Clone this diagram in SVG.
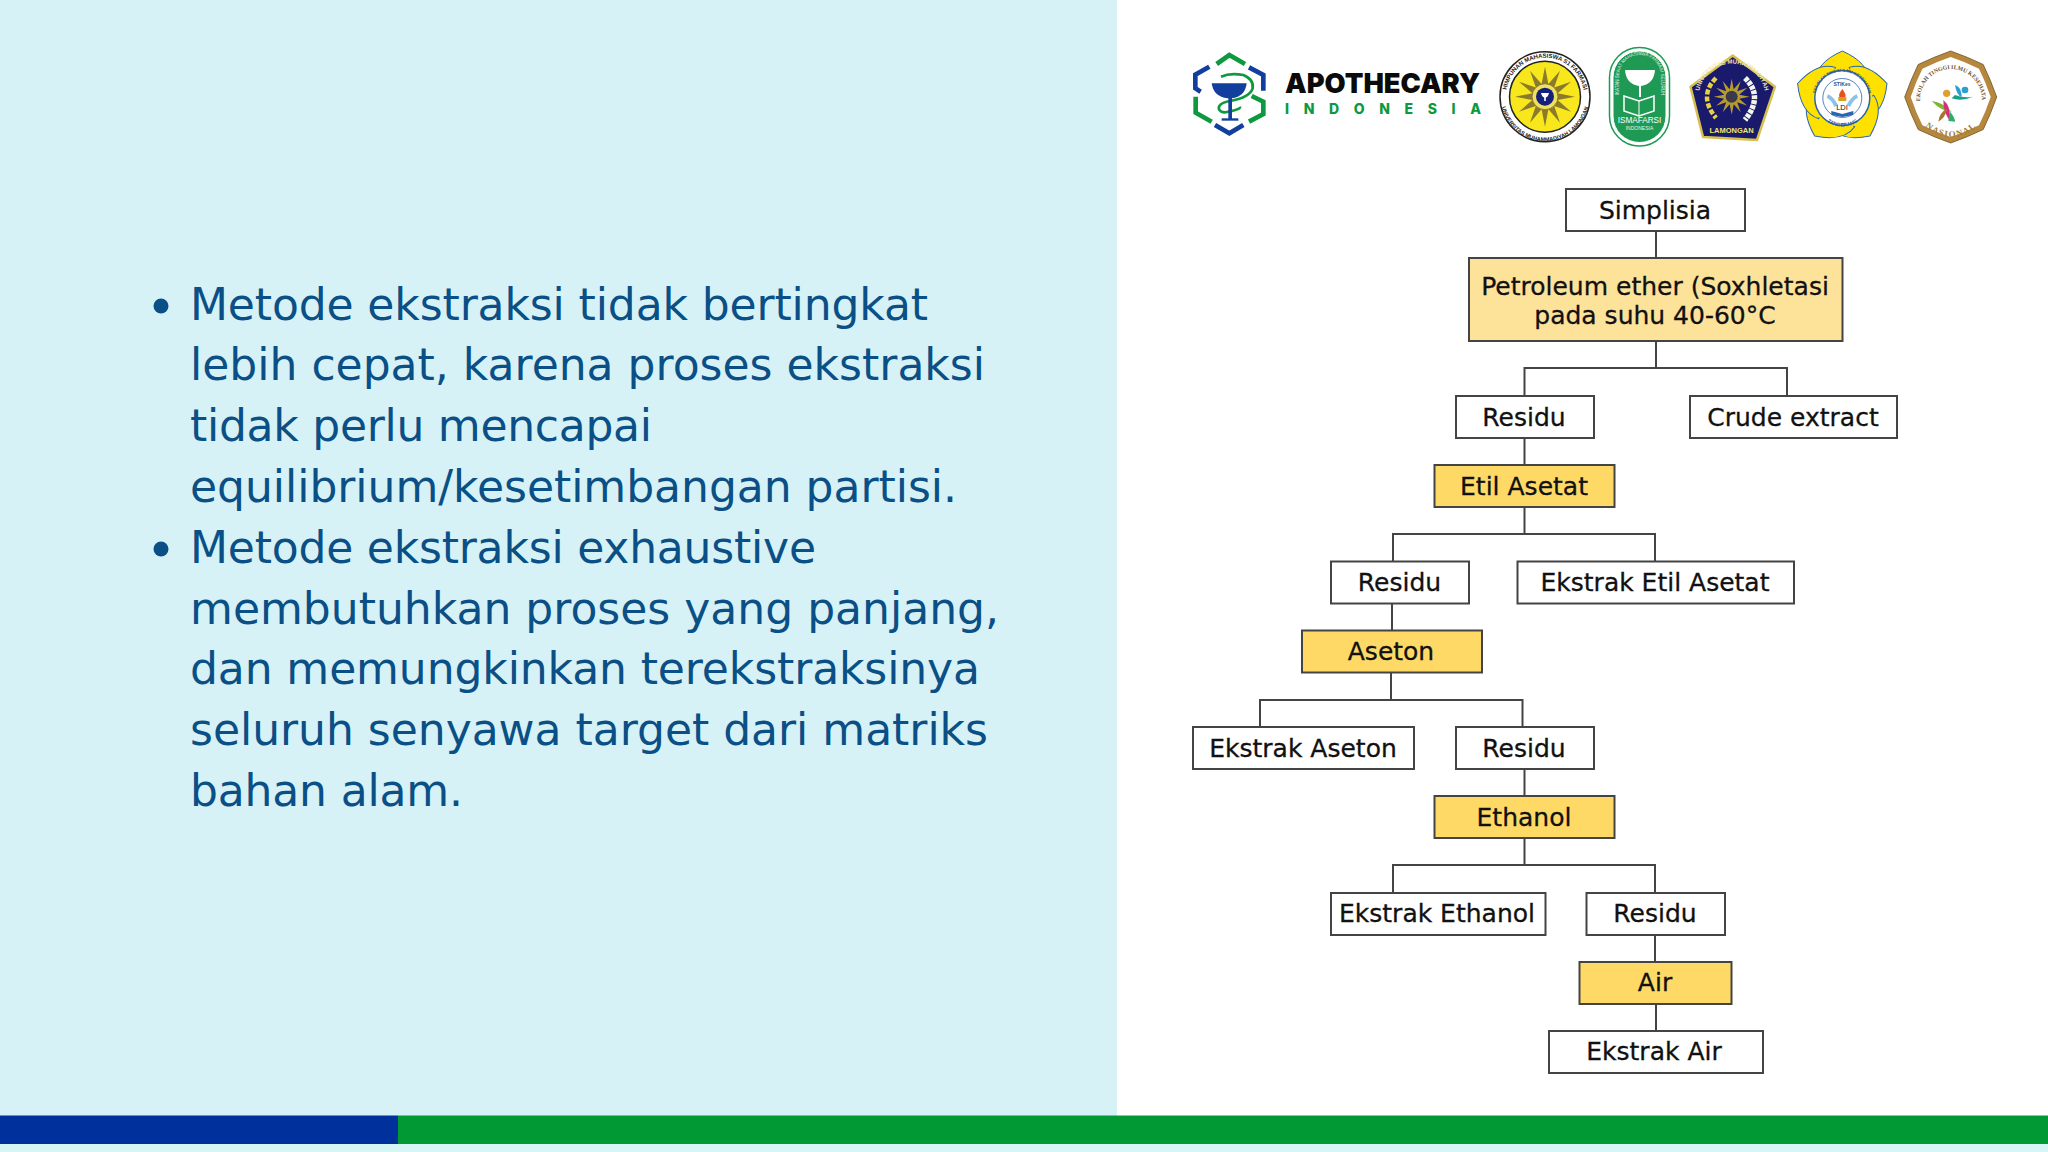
<svg xmlns="http://www.w3.org/2000/svg" width="2048" height="1152" viewBox="0 0 2048 1152">
<style>
.b{font-family:"DejaVu Sans",sans-serif;font-size:44px;fill:#0a4f86}
.n{fill:#fff;stroke:#444;stroke-width:2}
.y{fill:#ffd966;stroke:#444;stroke-width:2}
.l{fill:#fde29a;stroke:#444;stroke-width:2}
.t{font-family:"DejaVu Sans",sans-serif;font-size:25px;fill:#111;stroke:#111;stroke-width:.3;text-anchor:middle}
.c{fill:none;stroke:#444;stroke-width:2}
.gs{fill:none;stroke:#0d9a3e;stroke-width:14}
.bs{fill:none;stroke:#123f9e;stroke-width:14}
.s{font-family:"Liberation Sans",sans-serif;text-anchor:middle}
</style>
<defs>
<polygon id="star" points="0,-30 3.400,-12.600 15,-26 9.200,-9.200 26,-15 12.600,-3.400 30,0 12.600,3.400 26,15 9.200,9.200 15,26 3.400,12.600 0,30 -3.400,12.600 -15,26 -9.200,9.200 -26,15 -12.600,3.400 -30,0 -12.600,-3.400 -26,-15 -9.200,-9.200 -15,-26 -3.400,-12.600"/>
<path id="petal" d="M-27-16Q-27-35 0-47Q27-35 27-16Z" fill="#ffe100" stroke="#2a66b0" stroke-width="1"/>
<path id="a1t" d="M1506 96.700A39 39 0 0 1 1584 96.700"/>
<path id="a1b" d="M1500.500 96.700A44.500 44.500 0 0 0 1589.500 96.700"/>
<path id="a2" d="M1619 105V76A21 21 0 0 1 1661 76V105"/>
<path id="a3t" d="M1704 115A33.300 33.300 0 1 1 1760 115"/>
<path id="a4t" d="M1816 106A27 27 0 1 1 1868 106"/>
<path id="a4b" d="M1816 100A26.500 26.500 0 0 0 1869 100"/>
<path id="a5t" d="M1920 100A31 31 0 0 1 1982 100"/>
<path id="a5b" d="M1914 100A37 37 0 0 0 1988 100"/>
</defs>
<rect width="2048" height="1152" fill="#fff"/>
<rect width="1117" height="1116" fill="#d6f2f6"/>
<rect y="1144" width="2048" height="8" fill="#d6f6f6"/>
<rect y="1115.500" width="398" height="28.500" fill="#00309c"/>
<rect x="398" y="1115.500" width="1650" height="28.500" fill="#009933"/>
<g id="text">
<circle cx="161" cy="306" r="7.500" fill="#0a4f86"/>
<circle cx="161" cy="549" r="7.500" fill="#0a4f86"/>
<text class="b" x="190" y="319.500" textLength="738">Metode ekstraksi tidak bertingkat</text>
<text class="b" x="190" y="380.300" textLength="795">lebih cepat, karena proses ekstraksi</text>
<text class="b" x="190" y="441.100" textLength="462">tidak perlu mencapai</text>
<text class="b" x="190" y="501.900" textLength="767">equilibrium/kesetimbangan partisi.</text>
<text class="b" x="190" y="562.700" textLength="626">Metode ekstraksi exhaustive</text>
<text class="b" x="190" y="623.500" textLength="809">membutuhkan proses yang panjang,</text>
<text class="b" x="190" y="684.300" textLength="790">dan memungkinkan terekstraksinya</text>
<text class="b" x="190" y="745.100" textLength="798">seluruh senyawa target dari matriks</text>
<text class="b" x="190" y="805.900" textLength="273">bahan alam.</text>
</g>
<g id="logo-apothecary">
<g transform="translate(1180 40) scale(.3333)">
<polyline class="gs" points="110,72 148,45 195,72"/>
<polyline class="bs" points="207,82 250,105 250,152"/>
<polyline class="bs" points="88,80 46,104 46,145 62,155"/>
<polyline class="gs" points="47,170 47,218 95,245"/>
<polyline class="gs" points="215,168 250,185 250,222 207,245"/>
<polyline class="bs" points="105,255 148,280 190,255"/>
<path d="M123 110Q150 98 190 105Q222 118 218 145Q210 172 150 183Q112 190 117 208Q125 222 150 214Q182 208 180 200" fill="none" stroke="#0d9a3e" stroke-width="8"/>
<path d="M95 130H200Q196 170 155 175H143Q100 170 95 130Z" fill="#123f9e"/>
<rect x="145" y="172" width="11" height="65" fill="#123f9e"/>
<rect x="125" y="235" width="50" height="7" fill="#123f9e"/>
</g>
<text x="1285" y="93.300" font-family="Inter,sans-serif" font-weight="900" font-size="27.500" fill="#0b0b0b" textLength="195" lengthAdjust="spacingAndGlyphs">APOTHECARY</text>
<text x="1285" y="114" font-family="Inter,sans-serif" font-weight="800" font-size="14" fill="#0d9a3e" textLength="196">INDONESIA</text>
</g>
<g id="logo-himpunan">
<circle cx="1545" cy="96.700" r="45" fill="#fff" stroke="#222" stroke-width="1.500"/>
<circle cx="1545" cy="96.700" r="35.500" fill="#f8e71c" stroke="#222" stroke-width="1.500"/>
<use href="#star" transform="translate(1545 96.700)" fill="#8a7a2c"/>
<circle cx="1545" cy="96.700" r="13" fill="#f0e060" stroke="#8a7a2c" stroke-width="1"/>
<circle cx="1545" cy="96.700" r="9" fill="#14207c"/>
<path d="M1541 93H1549Q1548 97 1545.800 97.500V101H1544.200V97.500Q1542 97 1541 93Z" fill="#fff"/>
<text font-family="Liberation Sans,sans-serif" font-size="6" font-weight="700" fill="#222" text-anchor="middle"><textPath href="#a1t" startOffset="50%">HIMPUNAN MAHASISWA S1 FARMASI</textPath></text>
<text font-family="Liberation Sans,sans-serif" font-size="5.500" font-weight="700" fill="#222" text-anchor="middle"><textPath href="#a1b" startOffset="50%">UNIVERSITAS MUHAMMADIYAH LAMONGAN</textPath></text>
</g>
<g id="logo-ismafarsi">
<rect x="1609.500" y="47.500" width="60" height="98.500" rx="30" fill="#fff" stroke="#1f9a55" stroke-width="1.500"/>
<rect x="1613" y="51" width="53" height="91.500" rx="26.500" fill="#1f9a55" stroke="#fff" stroke-width="1"/>
<path d="M1625 70H1655Q1654 84 1641 86V97H1639V86Q1626 84 1625 70Z" fill="#fff"/>
<path d="M1624 96L1639 101L1654 96V111L1639 116L1624 111Z" fill="#1f9a55" stroke="#fff" stroke-width="1.500"/>
<path d="M1639 101V116" stroke="#fff" stroke-width="1"/>
<text class="s" x="1639.500" y="122.500" font-size="8.200" fill="#fff">ISMAFARSI</text>
<text class="s" x="1639.500" y="130" font-size="5" fill="#e4f4e8">INDONESIA</text>
<text font-family="Liberation Sans,sans-serif" font-size="4.500" fill="#e4f4e8" text-anchor="middle"><textPath href="#a2" startOffset="50%">IKATAN SENAT MAHASISWA FARMASI SELURUH</textPath></text>
</g>
<g id="logo-umla">
<path d="M1732.700 55.500L1775 86.700L1757 140L1703 137L1690.500 86.700Z" fill="#1a1a6c" stroke="#d8c050" stroke-width="2.500" stroke-linejoin="round"/>
<use href="#star" transform="translate(1731.700 96.700) scale(.6)" fill="#b59b2f"/>
<circle cx="1731.700" cy="96.700" r="6" fill="#3a3a4c"/>
<path d="M1745 78Q1764 96 1745 120" fill="none" stroke="#f4f4ec" stroke-width="5.500" stroke-dasharray="4 1"/>
<path d="M1716 78Q1698 96 1716 118" fill="none" stroke="#e8d040" stroke-width="4.500" stroke-dasharray="5 2"/>
<text font-family="Liberation Sans,sans-serif" font-size="6" font-weight="700" fill="#f0e8b0" text-anchor="middle"><textPath href="#a3t" startOffset="50%">UNIVERSITAS MUHAMMADIYAH</textPath></text>
<text class="s" x="1731.500" y="133" font-size="7.500" font-weight="700" fill="#f2e36a">LAMONGAN</text>
</g>
<g id="logo-stikes">
<g transform="translate(1842.300 98)">
<use href="#petal"/><use href="#petal" transform="rotate(72)"/><use href="#petal" transform="rotate(144)"/><use href="#petal" transform="rotate(216)"/><use href="#petal" transform="rotate(288)"/>
<circle r="30" fill="#ffe100"/>
<circle r="27.500" fill="#fff" stroke="#2a66b0" stroke-width="1.500"/>
<circle r="19.500" fill="#fff" stroke="#2a66b0" stroke-width=".8"/>
<path d="M-15-2Q-10 0-6 8M15-2Q10 0 6 8" fill="none" stroke="#8cc4e8" stroke-width="4"/>
<path d="M-11 13L0 16L11 13V17L0 19L-11 17Z" fill="#2a66b0"/>
<path d="M0-9Q4-4 3-1H-3Q-4-4 0-9Z" fill="#e8501c"/>
<rect x="-4" y="-1" width="8" height="4" fill="#d8a020"/>
</g>
<text class="s" x="1842" y="86" font-size="5" font-weight="700" fill="#2a4f96">STIKes</text>
<text class="s" x="1842" y="110" font-size="7.500" fill="#111">LDI</text>
<text font-family="Liberation Sans,sans-serif" font-size="4.200" font-weight="700" fill="#2a4f96" text-anchor="middle"><textPath href="#a4t" startOffset="50%">SEKOLAH TINGGI ILMU KESEHATAN</textPath></text>
<text font-family="Liberation Sans,sans-serif" font-size="5" font-weight="700" fill="#2a4f96" text-anchor="middle"><textPath href="#a4b" startOffset="50%">TANGERANG</textPath></text>
</g>
<g id="logo-nasional">
<g transform="translate(1950.700 97)">
<path d="M0-46Q17-40 32.500-32.500Q40-17 46 0Q40 17 32.500 32.500Q17 40 0 46Q-17 40-32.500 32.500Q-40 17-46 0Q-40-17-32.500-32.500Q-17-40 0-46Z" fill="#b5883e" stroke="#6e5020" stroke-width=".8"/>
<path d="M0-40Q15-35 28.300-28.300Q35-15 40 0Q35 15 28.300 28.300Q15 35 0 40Q-15 35-28.300 28.300Q-35 15-40 0Q-35-15-28.300-28.300Q-15-35 0-40Z" fill="#fff"/>
</g>
<g transform="translate(1780 40) scale(.3333)">
<path d="M525 135Q545 140 545 172Q530 165 525 135Z" fill="#2a9fd0"/>
<circle cx="555" cy="150" r="10" fill="#2a9fd0"/>
<path d="M580 170Q545 185 515 175L525 165Q550 175 580 170Z" fill="#16a085"/>
<circle cx="500" cy="160" r="11" fill="#e0a030"/>
<path d="M455 183Q485 185 515 215Q485 215 455 183Z" fill="#7cb82f"/>
<path d="M490 180Q515 200 508 240Q490 215 490 180Z" fill="#d62d7e"/>
<path d="M503 205Q495 235 475 245Q478 218 503 205Z" fill="#a8742a"/>
<path d="M510 215Q525 232 525 245L505 243Z" fill="#2fae6a"/>
</g>
<text font-family="Liberation Serif,serif" font-size="5.800" font-weight="700" fill="#6e5020" text-anchor="middle"><textPath href="#a5t" startOffset="50%">SEKOLAH TINGGI ILMU KESEHATAN</textPath></text>
<text font-family="Liberation Serif,serif" font-size="9" font-weight="700" fill="#a07c34" text-anchor="middle" letter-spacing="1.200"><textPath href="#a5b" startOffset="50%">NASIONAL</textPath></text>
</g>
<g id="connectors">
<path class="c" d="M1656 231V258M1656 341V368M1524.500 396V368H1787V396M1524.500 438V465M1524.500 507V534M1393 561V534H1655V561M1392 603V630M1391 672V700M1260 727V700H1522.500V727M1524.500 769V796M1524.500 838V865M1393 893V865H1655V893M1655 935V962M1656 1004V1031"/>
</g>
<g id="simplisia"><rect class="n" x="1566" y="189" width="179" height="42"/><text class="t" x="1655" y="218.500">Simplisia</text></g>
<g id="petroleum"><rect class="l" x="1469" y="258" width="373.500" height="83"/><text class="t" x="1655" y="294.500">Petroleum ether (Soxhletasi</text><text class="t" x="1655" y="323.500">pada suhu 40-60°C</text></g>
<g id="residu1"><rect class="n" x="1456" y="396" width="138" height="42"/><text class="t" x="1524" y="425.500">Residu</text></g>
<g id="crude"><rect class="n" x="1690" y="396" width="207" height="42"/><text class="t" x="1793" y="425.500">Crude extract</text></g>
<g id="etil"><rect class="y" x="1434.500" y="465" width="180" height="42"/><text class="t" x="1524" y="494.500">Etil Asetat</text></g>
<g id="residu2"><rect class="n" x="1331" y="561.500" width="138" height="42"/><text class="t" x="1399.500" y="591">Residu</text></g>
<g id="ekstraketil"><rect class="n" x="1517.500" y="561.500" width="276.500" height="42"/><text class="t" x="1655" y="591">Ekstrak Etil Asetat</text></g>
<g id="aseton"><rect class="y" x="1302" y="630.500" width="180" height="42"/><text class="t" x="1391" y="660">Aseton</text></g>
<g id="ekstrakaseton"><rect class="n" x="1193" y="727" width="221" height="42"/><text class="t" x="1303" y="757">Ekstrak Aseton</text></g>
<g id="residu3"><rect class="n" x="1456" y="727" width="138" height="42"/><text class="t" x="1524" y="757">Residu</text></g>
<g id="ethanol"><rect class="y" x="1434.500" y="796" width="180" height="42"/><text class="t" x="1524" y="826">Ethanol</text></g>
<g id="ekstraketh"><rect class="n" x="1331" y="893" width="214.500" height="42"/><text class="t" x="1437" y="922">Ekstrak Ethanol</text></g>
<g id="residu4"><rect class="n" x="1586.500" y="893" width="138.500" height="42"/><text class="t" x="1655" y="922">Residu</text></g>
<g id="air"><rect class="y" x="1579.500" y="962" width="152" height="42"/><text class="t" x="1655" y="991">Air</text></g>
<g id="ekstrakair"><rect class="n" x="1549" y="1031" width="214" height="42"/><text class="t" x="1654" y="1060">Ekstrak Air</text></g>
</svg>
